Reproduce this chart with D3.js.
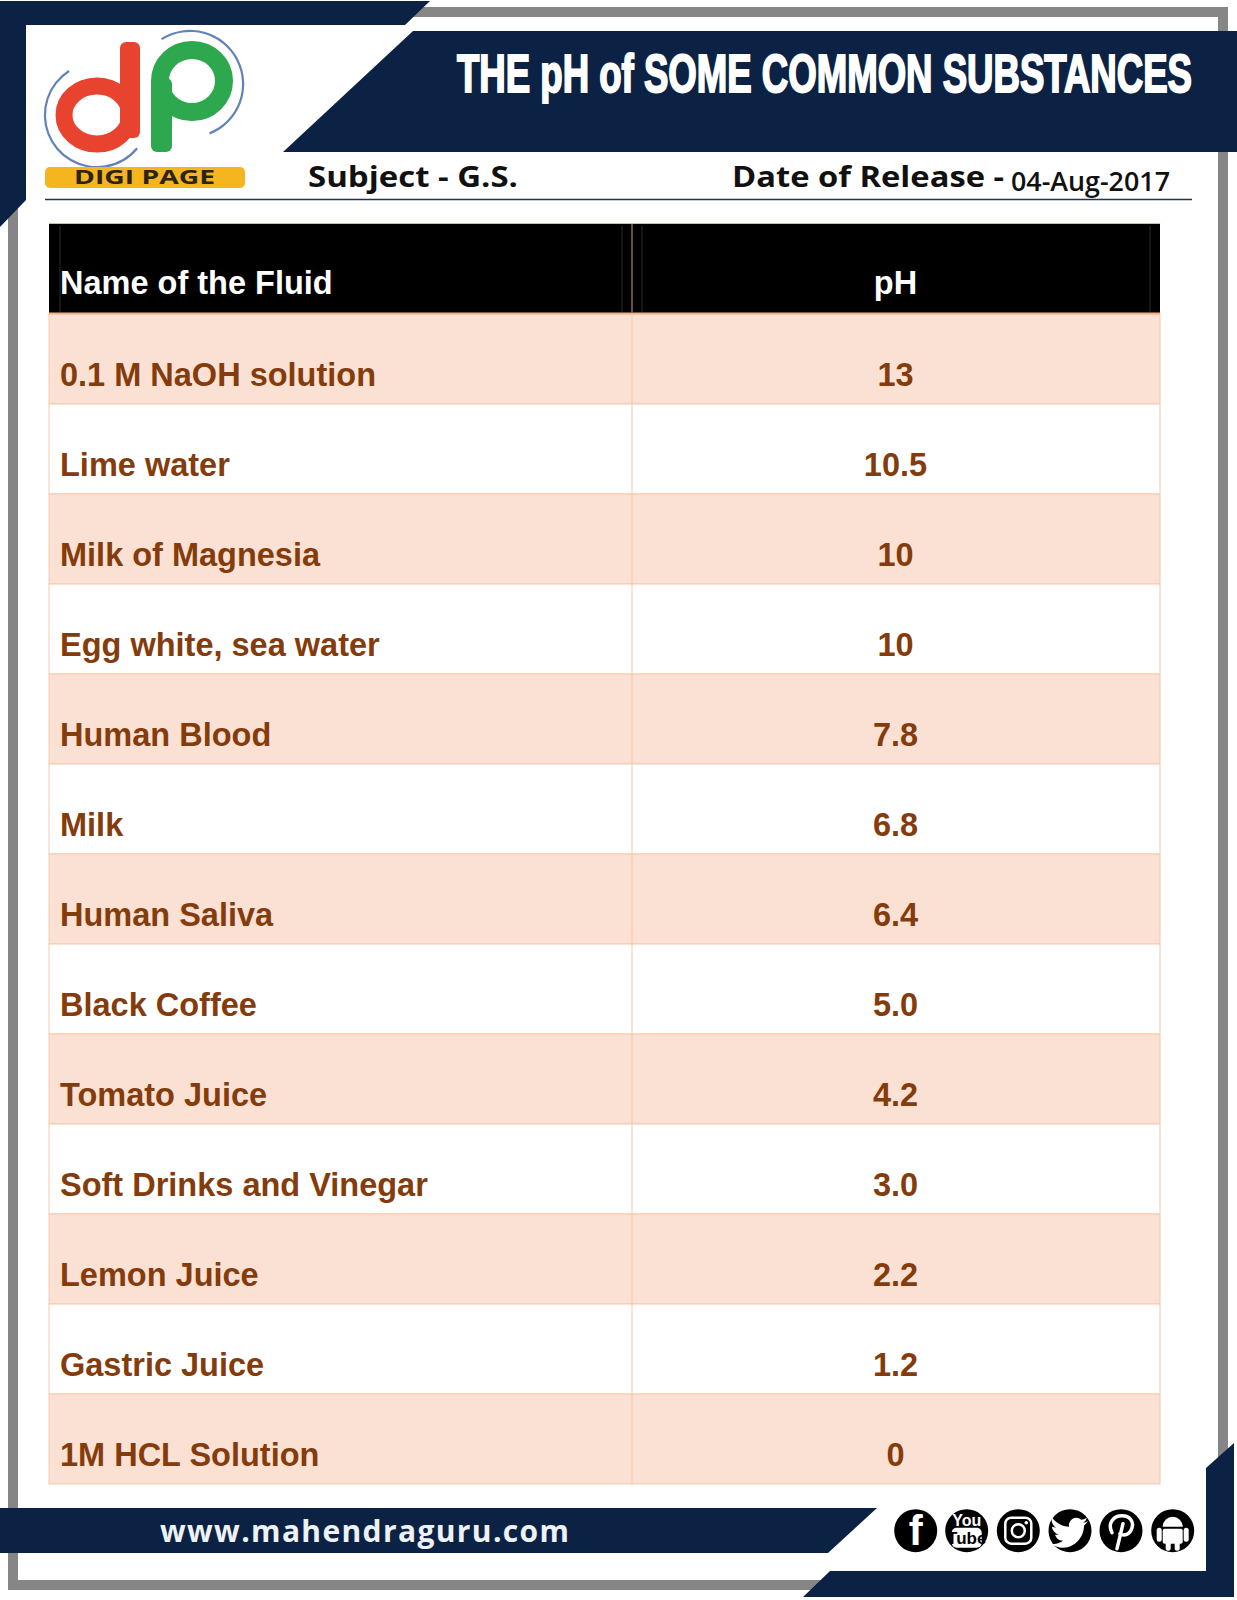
<!DOCTYPE html>
<html><head><meta charset="utf-8">
<script src="https://cdn.jsdelivr.net/npm/d3@7"></script>
<style>html,body{margin:0;padding:0;background:#fff}svg{display:block}</style>
</head><body><div id="chart"></div>
<script>
const titleText = "THE pH of SOME COMMON SUBSTANCES";
const subjectText = "Subject - G.S.";
const dateLabel = "Date of Release -";
const dateValue = "04-Aug-2017";
const siteText = "www.mahendraguru.com";
const brandText = "DIGI PAGE";
const columnHeaders = ["Name of the Fluid", "pH"];
const fluids = ["0.1 M NaOH solution","Lime water","Milk of Magnesia","Egg white, sea water","Human Blood","Milk","Human Saliva","Black Coffee","Tomato Juice","Soft Drinks and Vinegar","Lemon Juice","Gastric Juice","1M HCL Solution"];
const phValues = ["13","10.5","10","10","7.8","6.8","6.4","5.0","4.2","3.0","2.2","1.2","0"];

const W = 1237, H = 1600;
const navy = "#0b2244", grey = "#868686", brown = "#843c0c", pink = "#fbe1d4", rule = "#f5c9ac";
const svg = d3.select("#chart").append("svg").attr("width", W).attr("height", H).attr("viewBox", `0 0 ${W} ${H}`);
const poly = (pts, fill) => svg.append("path").attr("d", d3.line()(pts) + "Z").attr("fill", fill);

// frame
svg.append("rect").attr("x", 13).attr("y", 12).attr("width", 1210).attr("height", 1573)
  .attr("fill", "none").attr("stroke", grey).attr("stroke-width", 10);
poly([[0,1],[430,1],[405,25],[26,25],[26,200],[0,227]], navy);
poly([[803,1597],[830,1571],[1206,1571],[1206,1468],[1234,1443],[1234,1597]], navy);
poly([[413,31],[1237,31],[1237,152],[283,152]], navy);
poly([[0,1508],[877,1508],[828,1553],[0,1553]], navy);

// title
svg.append("text").text(titleText).attr("x", 457).attr("y", 92)
  .attr("textLength", 735).attr("lengthAdjust", "spacingAndGlyphs")
  .attr("font-family", "'Liberation Sans Narrow','Liberation Sans',sans-serif").attr("font-weight", 700)
  .attr("font-size", 53).attr("fill", "#fff").attr("stroke", "#fff").attr("stroke-width", 2);

// logo
const logo = svg.append("g");
logo.append("ellipse").attr("cx", 97).attr("cy", 115).attr("rx", 33).attr("ry", 29).attr("fill", "none").attr("stroke", "#e8432f").attr("stroke-width", 17);
logo.append("rect").attr("x", 120).attr("y", 42).attr("width", 20).attr("height", 96).attr("rx", 6).attr("fill", "#e8432f");
logo.append("ellipse").attr("cx", 192).attr("cy", 81).attr("rx", 32).attr("ry", 31).attr("fill", "none").attr("stroke", "#2ea84f").attr("stroke-width", 18);
logo.append("rect").attr("x", 151).attr("y", 78).attr("width", 21).attr("height", 74).attr("rx", 6).attr("fill", "#2ea84f");
const arc = (cx, cy, r, a0, a1) => logo.append("path")
  .attr("transform", `translate(${cx},${cy})`)
  .attr("d", d3.arc().innerRadius(r).outerRadius(r + 2.2).startAngle(a0).endAngle(a1)())
  .attr("fill", "#5f82bb");
arc(97, 115, 51, -Math.PI * 0.18, -Math.PI * 1.05);
arc(97, 115, 51, Math.PI * 0.95, Math.PI * 0.72);
arc(190, 84, 52, -Math.PI * 0.18, Math.PI * 0.88);
logo.append("rect").attr("x", 45).attr("y", 167).attr("width", 200).attr("height", 21).attr("rx", 5).attr("fill", "#f5b51e");
logo.append("text").text(brandText).attr("x", 74).attr("y", 184).attr("textLength", 141).attr("lengthAdjust", "spacingAndGlyphs")
  .attr("font-family", "'Open Sans',sans-serif").attr("font-weight", 700).attr("font-size", 19).attr("fill", "#2b2413");

// subject row
const sub = (t, x, y, len, size, weight) => svg.append("text").text(t).attr("x", x).attr("y", y)
  .attr("textLength", len).attr("lengthAdjust", "spacingAndGlyphs")
  .attr("font-family", "'Open Sans',sans-serif").attr("font-weight", weight).attr("font-size", size).attr("fill", "#111");
sub(subjectText, 308, 187, 210, 29, 700);
sub(dateLabel, 732, 187, 272, 29, 700);
sub(dateValue, 1011, 191, 159, 27, 600);
svg.append("line").attr("x1", 45).attr("x2", 1192).attr("y1", 199.5).attr("y2", 199.5).attr("stroke", "#1d3350").attr("stroke-width", 1.5);

// table
const tableLeft = 49, tableRight = 1160, divider = 632;
const y = d3.scaleBand().domain(fluids).range([314, 1484]);
const rows = svg.append("g").selectAll("g").data(fluids).join("g");
rows.append("rect").attr("x", tableLeft).attr("width", tableRight - tableLeft)
  .attr("y", d => y(d)).attr("height", y.bandwidth())
  .attr("fill", (d, i) => i % 2 === 0 ? pink : "#fff")
  .attr("stroke", rule).attr("stroke-width", 1);
svg.append("line").attr("x1", divider).attr("x2", divider).attr("y1", 314).attr("y2", 1484).attr("stroke", rule);
const cell = (sel, x, anchor, fill, acc) => sel.append("text").text(acc).attr("x", x).attr("text-anchor", anchor)
  .attr("font-family", "'Liberation Sans',Arial,sans-serif").attr("font-weight", 700).attr("font-size", 32.5).attr("fill", fill);
cell(rows, 60, "start", brown, d => d).attr("y", d => y(d) + y.bandwidth() - 18);
cell(rows, 895.5, "middle", brown, (d, i) => phValues[i]).attr("y", d => y(d) + y.bandwidth() - 18);

// header
svg.append("rect").attr("x", tableLeft).attr("y", 224).attr("width", tableRight - tableLeft).attr("height", 89).attr("fill", "#000");
svg.append("line").attr("x1", tableLeft).attr("x2", tableRight).attr("y1", 313.5).attr("y2", 313.5).attr("stroke", "#f4b083").attr("stroke-width", 2);
svg.append("line").attr("x1", tableLeft).attr("x2", tableRight).attr("y1", 223.5).attr("y2", 223.5).attr("stroke", "#e9b596").attr("stroke-width", 1);
svg.append("line").attr("x1", divider).attr("x2", divider).attr("y1", 224).attr("y2", 313).attr("stroke", "#8a6a58").attr("stroke-width", 1.5);
[60, 622, 642, 1150].forEach(x => svg.append("line").attr("x1", x).attr("x2", x).attr("y1", 226).attr("y2", 312).attr("stroke", "#2a2a2a"));
const hdr = svg.append("g");
cell(hdr, 60, "start", "#fff", columnHeaders[0]).attr("y", 294);
cell(hdr, 895.5, "middle", "#fff", columnHeaders[1]).attr("y", 294);

// footer
svg.append("text").text(siteText).attr("x", 160).attr("y", 1542).attr("textLength", 409).attr("lengthAdjust", "spacing")
  .attr("font-family", "'Open Sans',sans-serif").attr("font-weight", 700).attr("font-size", 30).attr("fill", "#eef2f6");

// social icons
const iconX = [915.7, 966.7, 1018.3, 1070, 1121, 1172.7];
const iconY = 1530.7, iconR = 21.5;
const icons = svg.append("g").selectAll("g").data(iconX).join("g").attr("transform", d => `translate(${d},${iconY})`);
icons.append("circle").attr("r", iconR).attr("fill", "#000");
const ic = i => d3.select(icons.nodes()[i]);
const iconText = (g, t, dy, size, family, weight, style) => g.append("text").text(t).attr("text-anchor", "middle").attr("y", dy)
  .attr("font-family", family).attr("font-size", size).attr("font-weight", weight).attr("font-style", style || "normal").attr("fill", "#fff");
iconText(ic(0), "f", 14, 42, "'Liberation Sans',sans-serif", 700);
iconText(ic(1), "You", -5, 16, "'Liberation Sans Narrow',sans-serif", 700);
ic(1).append("rect").attr("x", -15).attr("y", -3).attr("width", 30).attr("height", 20).attr("rx", 5).attr("fill", "#fff");
ic(1).append("text").text("Tube").attr("text-anchor", "middle").attr("y", 13).attr("font-family", "'Liberation Sans Narrow',sans-serif").attr("font-weight", 700).attr("font-size", 17).attr("fill", "#000");
ic(2).append("rect").attr("x", -13).attr("y", -13).attr("width", 26).attr("height", 26).attr("rx", 6).attr("fill", "none").attr("stroke", "#fff").attr("stroke-width", 2.5);
ic(2).append("circle").attr("r", 6.5).attr("fill", "none").attr("stroke", "#fff").attr("stroke-width", 2.5);
ic(2).append("circle").attr("cx", 8).attr("cy", -8).attr("r", 1.8).attr("fill", "#fff");
ic(3).append("path").attr("fill", "#fff")
  .attr("d", "M-18,-13 C-13,-7 -7,-4 -1,-4 C-2,-11 6,-16 11,-11 C13,-11 15,-12 17,-13 C16,-11 15,-9 13,-8 C15,-8 17,-9 18,-10 C17,-8 15,-6 14,-5 C14,6 5,17 -7,17 C-12,17 -16,15 -19,13 C-14,14 -10,12 -7,10 C-11,10 -14,7 -15,4 L-11,4 C-15,3 -18,-1 -18,-4 L-14,-3 C-18,-6 -19,-10 -18,-13Z");
ic(4).append("path").attr("fill", "none").attr("stroke", "#fff").attr("stroke-width", 3.5).attr("stroke-linecap", "round")
  .attr("d", "M-9,2 C-14,-8 -7,-15 1,-15 C9,-15 13,-9 11,-3 C9,4 3,6 -1,3 M2,-7 L-4,18");
ic(5).append("path").attr("fill", "#fff").attr("d", "M-10,-4 A10,10 0 0 1 10,-4 Z");
ic(5).append("rect").attr("x", -10).attr("y", -2).attr("width", 20).attr("height", 15).attr("rx", 2).attr("fill", "#fff");
[[-16,-3,5,14],[11,-3,5,14],[-7,11,5,9],[2,11,5,9]].forEach(r => ic(5).append("rect").attr("x", r[0]).attr("y", r[1]).attr("width", r[2]).attr("height", r[3]).attr("rx", 2.5).attr("fill", "#fff"));
</script></body></html>
